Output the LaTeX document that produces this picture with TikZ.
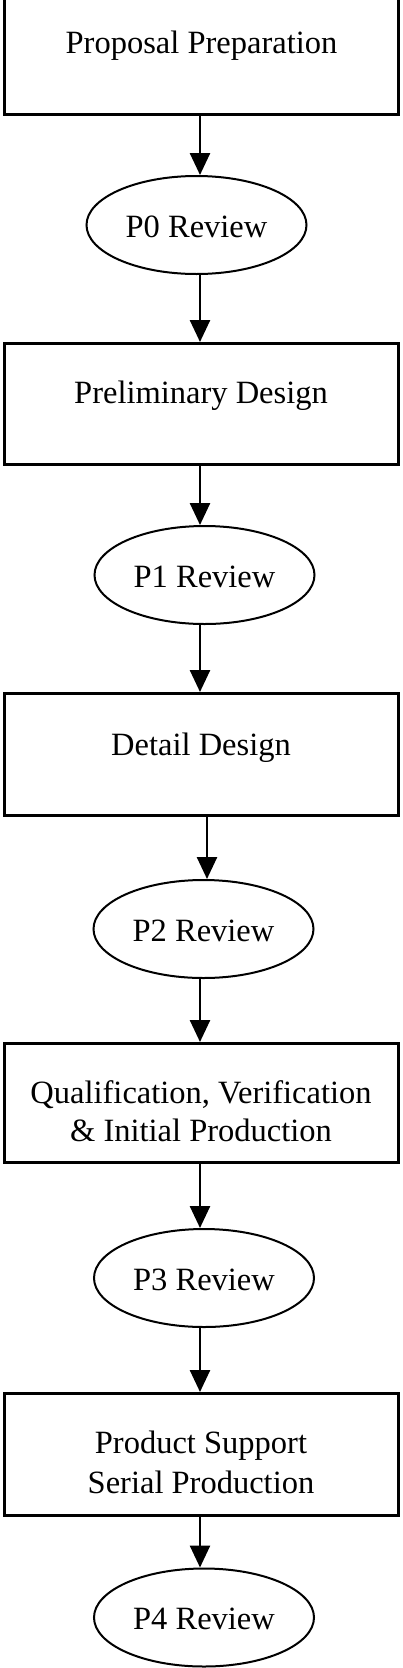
\documentclass[tikz,border=0pt]{standalone}
\usepackage{fontspec}
\setmainfont{Liberation Serif}
\usetikzlibrary{arrows.meta,shapes.geometric}
\begin{document}
\begin{tikzpicture}[x=1pt,y=-1pt,
  box/.style={draw, line width=3pt, rectangle, minimum width=394pt, inner sep=0pt},
  oval/.style={draw, line width=2pt, ellipse, minimum width=220pt, minimum height=98pt, inner sep=0pt},
  lbl/.style={anchor=base, inner sep=0pt, font=\fontsize{32.5}{39}\selectfont},
  arr/.style={line width=2.6pt, -{Triangle[width=20pt,length=22pt]}}]
\useasboundingbox (0,0) rectangle (402,1668);
\clip (0,0) rectangle (402,1668);
\coordinate (spine) at (200,0);
\coordinate (spineb) at (207,0);
% boxes
\node[box, minimum height=121pt] (b1) at (201.5,54) {};
\node[box, minimum height=121pt] (b2) at (201.5,404) {};
\node[box, minimum height=122pt] (b3) at (201.5,754.5) {};
\node[box, minimum height=119pt] (b4) at (201.5,1103) {};
\node[box, minimum height=122pt] (b5) at (201.5,1454.5) {};
% box texts
\node[lbl] (t1) at (201.5,53) {Proposal Preparation};
\node[lbl] (t2) at (201,403) {Preliminary Design};
\node[lbl] (t3) at (201,755) {Detail Design};
\node[lbl] (t4a) at (201,1103) {Qualification, Verification};
\node[lbl] (t4b) at (201,1141) {\& Initial Production};
\node[lbl] (t5a) at (201,1453) {Product Support};
\node[lbl] (t5b) at (201,1493) {Serial Production};
% ellipses
\node[oval] (e0) at (196.5,225) {};
\node[oval] (e1) at (204.5,575) {};
\node[oval] (e2) at (203.5,929) {};
\node[oval] (e3) at (204,1278) {};
\node[oval] (e4) at (204,1617.5) {};
\node[lbl] (l0) at (196.5,237) {P0 Review};
\node[lbl] (l1) at (204.5,587) {P1 Review};
\node[lbl] (l2) at (203.5,941) {P2 Review};
\node[lbl] (l3) at (204,1290) {P3 Review};
\node[lbl] (l4) at (204,1629) {P4 Review};
% connectors
\draw[arr] (b1.south -| spine) -- (e0.north -| spine);
\draw[arr] (e0.south -| spine) -- (b2.north -| spine);
\draw[arr] (b2.south -| spine) -- (e1.north -| spine);
\draw[arr] (e1.south -| spine) -- (b3.north -| spine);
\draw[arr] (b3.south -| spineb) -- (e2.north -| spineb);
\draw[arr] (e2.south -| spine) -- (b4.north -| spine);
\draw[arr] (b4.south -| spine) -- (e3.north -| spine);
\draw[arr] (e3.south -| spine) -- (b5.north -| spine);
\draw[arr] (b5.south -| spine) -- (e4.north -| spine);
\end{tikzpicture}
\end{document}
